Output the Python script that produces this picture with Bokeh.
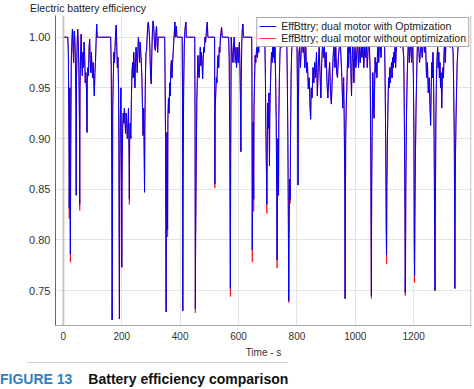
from bokeh.plotting import figure
from bokeh.models import Range1d, PrintfTickFormatter, Span, Legend, LegendItem, Div, ColumnDataSource
from bokeh.layouts import column
from bokeh.embed import file_html
from bokeh.resources import INLINE

# ---------------- data ----------------
time_s = [
    0, 15, 17, 19, 20, 21, 22, 23, 24, 25,
    27, 29, 31, 33, 35, 37, 39, 41, 43, 44,
    45, 47, 49, 51, 53, 55, 56, 57, 59, 61,
    63, 65, 67, 69, 71, 73, 75, 77, 79, 81,
    82, 84, 86, 88, 90, 92, 94, 96, 98, 100,
    102, 104, 106, 108, 110, 112, 114, 116, 162, 164,
    166, 167, 168, 169, 171, 173, 175, 177, 179, 181,
    183, 185, 187, 189, 190, 191, 192, 193, 195, 197,
    199, 200, 201, 203, 205, 207, 209, 211, 213, 215,
    217, 219, 221, 223, 225, 226, 227, 229, 231, 233,
    235, 237, 239, 241, 243, 245, 247, 249, 251, 253,
    255, 257, 259, 261, 263, 265, 267, 269, 271, 273,
    275, 277, 278, 279, 281, 283, 285, 287, 289, 291,
    293, 295, 297, 299, 301, 303, 305, 307, 309, 311,
    313, 315, 317, 319, 321, 323, 325, 347, 348, 350,
    352, 353, 355, 356, 357, 358, 360, 362, 364, 366,
    368, 370, 372, 374, 376, 378, 380, 382, 384, 387,
    389, 407, 408, 409, 410, 412, 414, 416, 418, 420,
    421, 450, 451, 452, 453, 455, 457, 459, 461, 463,
    465, 467, 469, 471, 473, 475, 477, 479, 481, 483,
    485, 487, 489, 491, 493, 495, 518, 519, 520, 522,
    524, 526, 528, 530, 532, 534, 536, 538, 540, 542,
    544, 566, 568, 570, 572, 573, 575, 577, 579, 581,
    583, 585, 587, 589, 591, 593, 595, 597, 599, 601,
    603, 605, 607, 608, 609, 611, 613, 615, 617, 645,
    646, 647, 648, 650, 652, 653, 655, 657, 659, 661,
    663, 665, 667, 669, 671, 690, 692, 694, 696, 697,
    698, 700, 702, 704, 706, 707, 709, 711, 713, 715,
    717, 719, 721, 723, 725, 727, 729, 731, 732, 733,
    735, 737, 738, 740, 742, 744, 746, 748, 750, 752,
    765, 767, 769, 771, 772, 773, 775, 777, 778, 780,
    782, 784, 800, 802, 804, 805, 807, 809, 812, 815,
    818, 821, 824, 827, 830, 833, 836, 839, 842, 845,
    847, 849, 852, 855, 858, 861, 864, 867, 870, 873,
    876, 879, 882, 885, 888, 891, 894, 897, 900, 903,
    906, 909, 912, 915, 918, 921, 924, 927, 930, 933,
    936, 939, 942, 945, 948, 951, 954, 957, 960, 962,
    964, 965, 967, 969, 971, 973, 975, 977, 979, 981,
    983, 985, 987, 989, 991, 993, 995, 997, 999, 1002,
    1005, 1008, 1011, 1014, 1017, 1020, 1023, 1026, 1029, 1032,
    1035, 1038, 1041, 1044, 1047, 1049, 1051, 1053, 1055, 1056,
    1058, 1060, 1062, 1064, 1066, 1068, 1070, 1072, 1074, 1076,
    1078, 1080, 1082, 1084, 1086, 1088, 1090, 1092, 1100, 1102,
    1104, 1106, 1107, 1108, 1110, 1112, 1114, 1116, 1118, 1120,
    1122, 1124, 1126, 1128, 1130, 1132, 1134, 1136, 1138, 1140,
    1142, 1144, 1150, 1155, 1160, 1166, 1168, 1170, 1171, 1172,
    1173, 1175, 1177, 1179, 1181, 1183, 1185, 1187, 1189, 1191,
    1193, 1195, 1197, 1199, 1201, 1202, 1203, 1204, 1206, 1208,
    1210, 1212, 1214, 1217, 1220, 1223, 1226, 1229, 1232, 1235,
    1238, 1241, 1244, 1247, 1250, 1253, 1256, 1258, 1260, 1262,
    1264, 1266, 1268, 1270, 1272, 1273, 1274, 1276, 1278, 1280,
    1282, 1284, 1286, 1288, 1290, 1292, 1294, 1296, 1298, 1300,
    1302, 1304, 1306, 1308, 1310, 1312, 1320, 1325, 1330, 1335,
    1337, 1339, 1340, 1341, 1342, 1343, 1345, 1347, 1349, 1351,
    1353,
]

eff_with_opt = [
    1.000, 1.000, 0.985, 0.900, 0.831, 0.860, 0.950, 0.840, 0.786, 0.880,
    0.975, 0.995, 1.008, 0.990, 0.975, 1.006, 1.000, 0.980, 0.930, 0.844,
    0.960, 0.990, 1.008, 0.995, 0.970, 0.920, 0.835, 0.950, 0.985, 1.003,
    0.975, 0.962, 0.985, 0.970, 0.995, 0.980, 0.955, 0.965, 0.950, 0.906,
    0.955, 0.970, 0.962, 0.990, 0.998, 0.978, 0.965, 0.985, 0.970, 0.960,
    0.975, 0.958, 0.942, 0.965, 0.975, 0.995, 1.013, 1.000, 1.000, 0.970,
    0.850, 0.721, 0.800, 0.930, 0.960, 0.985, 0.975, 0.990, 1.005, 1.012,
    0.990, 0.970, 0.980, 0.950, 0.900, 0.800, 0.722, 0.850, 0.920, 0.950,
    0.880, 0.773, 0.860, 0.910, 0.925, 0.915, 0.930, 0.920, 0.905, 0.925,
    0.915, 0.900, 0.910, 0.930, 0.880, 0.840, 0.900, 0.915, 0.900, 0.940,
    0.965, 0.975, 0.960, 0.985, 0.970, 0.950, 0.975, 0.990, 0.980, 0.965,
    0.985, 1.000, 0.990, 0.975, 0.995, 0.985, 0.975, 0.960, 0.930, 0.903,
    0.930, 0.880, 0.847, 0.910, 0.960, 0.985, 0.987, 1.000, 1.012, 1.015,
    1.008, 1.000, 0.980, 0.960, 0.954, 0.985, 1.005, 1.016, 1.012, 1.000,
    0.990, 0.987, 1.005, 1.011, 0.995, 0.985, 1.000, 1.000, 0.970, 0.900,
    0.729, 0.850, 0.906, 0.850, 0.810, 0.920, 0.940, 0.925, 0.955, 0.942,
    0.970, 0.977, 0.960, 0.975, 0.985, 0.995, 1.005, 1.015, 1.000, 1.011,
    1.000, 1.000, 0.950, 0.730, 0.850, 0.950, 0.990, 1.005, 1.012, 1.015,
    1.000, 1.000, 0.920, 0.732, 0.800, 0.873, 0.936, 0.960, 0.982, 0.965,
    0.960, 0.975, 0.990, 0.972, 0.985, 0.975, 0.959, 0.980, 0.990, 0.985,
    1.000, 0.995, 1.002, 1.010, 1.015, 1.000, 1.000, 0.855, 0.929, 0.945,
    0.960, 0.955, 0.975, 0.982, 0.970, 0.990, 0.985, 1.000, 1.005, 1.010,
    1.000, 1.000, 0.980, 0.900, 0.752, 0.883, 1.000, 0.990, 0.980, 0.975,
    0.990, 1.000, 0.985, 0.975, 0.990, 0.970, 0.980, 0.990, 0.975, 0.985,
    0.995, 0.970, 0.930, 0.887, 0.950, 0.995, 1.008, 1.013, 1.000, 1.000,
    0.960, 0.790, 0.850, 0.916, 0.840, 0.930, 0.960, 0.982, 0.975, 0.985,
    0.990, 0.980, 1.000, 0.985, 1.000, 1.000, 0.960, 0.900, 0.860, 0.835,
    0.880, 0.935, 0.910, 0.945, 0.873, 0.920, 0.950, 0.970, 0.985, 0.975,
    0.990, 0.980, 0.995, 0.975, 0.990, 0.960, 0.920, 0.840, 0.780, 0.850,
    0.900, 0.844, 0.920, 0.960, 0.985, 0.995, 1.000, 0.990, 0.995, 1.000,
    1.000, 0.960, 0.900, 0.800, 0.740, 0.800, 0.860, 0.840, 0.900, 0.960,
    0.985, 1.000, 1.000, 0.950, 0.854, 0.930, 0.985, 0.990, 0.970, 0.990,
    1.000, 0.985, 0.990, 0.970, 0.995, 0.965, 0.975, 0.949, 0.960, 0.930,
    0.919, 0.950, 0.940, 0.970, 0.955, 0.975, 0.960, 0.985, 0.942, 0.970,
    0.990, 0.965, 0.940, 0.975, 0.995, 0.980, 0.990, 0.970, 0.985, 0.955,
    0.940, 0.960, 0.975, 0.945, 0.934, 0.960, 0.980, 0.995, 0.970, 0.990,
    0.965, 0.960, 0.980, 0.990, 1.000, 0.980, 0.960, 0.930, 0.960, 0.920,
    0.850, 0.742, 0.900, 0.933, 0.950, 0.975, 0.990, 0.970, 0.990, 0.985,
    0.995, 0.965, 0.942, 0.975, 1.000, 0.980, 0.955, 0.975, 0.990, 0.970,
    0.985, 0.995, 0.970, 0.990, 0.975, 0.990, 0.980, 0.995, 0.970, 0.990,
    0.980, 0.995, 0.970, 0.990, 1.000, 0.985, 0.965, 0.880, 0.745, 0.850,
    0.920, 0.965, 0.935, 0.920, 0.950, 0.980, 0.965, 0.975, 0.960, 0.985,
    0.995, 0.975, 0.990, 1.000, 0.990, 0.980, 0.995, 1.000, 1.000, 0.960,
    0.900, 0.810, 0.785, 0.850, 0.900, 0.935, 0.960, 0.950, 0.970, 0.955,
    0.965, 0.975, 0.960, 0.980, 0.970, 0.985, 0.975, 0.990, 0.970, 0.985,
    0.995, 1.000, 1.000, 0.990, 1.000, 0.980, 0.920, 0.830, 0.748, 0.780,
    0.850, 0.916, 0.950, 0.975, 0.990, 0.995, 0.975, 0.990, 1.000, 0.985,
    0.975, 1.000, 0.990, 0.960, 0.900, 0.800, 0.765, 0.820, 0.883, 0.930,
    0.960, 0.985, 1.000, 0.990, 0.975, 0.985, 0.995, 0.980, 0.990, 1.000,
    0.985, 0.990, 0.960, 0.975, 0.945, 0.960, 0.930, 0.913, 0.950, 0.975,
    0.960, 0.985, 0.960, 0.900, 0.800, 0.750, 0.820, 0.920, 0.960, 0.980,
    0.990, 0.970, 0.985, 0.960, 0.975, 0.950, 0.965, 0.930, 0.955, 0.970,
    0.960, 0.985, 0.995, 0.975, 0.990, 1.000, 1.000, 0.990, 1.000, 0.985,
    0.950, 0.900, 0.840, 0.752, 0.830, 0.880, 0.920, 0.950, 0.975, 0.985,
    1.000,
]

eff_without_opt = [
    1.000, 1.000, 0.985, 0.900, 0.821, 0.860, 0.950, 0.840, 0.778, 0.880,
    0.975, 0.995, 1.008, 0.990, 0.975, 1.006, 1.000, 0.980, 0.930, 0.844,
    0.960, 0.990, 1.008, 0.995, 0.970, 0.920, 0.829, 0.950, 0.985, 1.003,
    0.975, 0.962, 0.985, 0.970, 0.995, 0.980, 0.955, 0.965, 0.950, 0.906,
    0.955, 0.970, 0.962, 0.990, 0.998, 0.978, 0.965, 0.985, 0.970, 0.960,
    0.975, 0.958, 0.942, 0.965, 0.975, 0.995, 1.013, 1.000, 1.000, 0.970,
    0.850, 0.721, 0.800, 0.930, 0.960, 0.985, 0.975, 0.990, 1.005, 1.012,
    0.990, 0.970, 0.980, 0.950, 0.900, 0.800, 0.722, 0.850, 0.920, 0.950,
    0.880, 0.773, 0.860, 0.910, 0.925, 0.915, 0.930, 0.920, 0.905, 0.925,
    0.915, 0.900, 0.910, 0.930, 0.880, 0.835, 0.900, 0.915, 0.900, 0.940,
    0.965, 0.975, 0.960, 0.985, 0.970, 0.950, 0.975, 0.990, 0.980, 0.965,
    0.985, 1.000, 0.990, 0.975, 0.995, 0.985, 0.975, 0.960, 0.930, 0.903,
    0.930, 0.880, 0.847, 0.910, 0.960, 0.985, 0.987, 1.000, 1.012, 1.015,
    1.008, 1.000, 0.980, 0.960, 0.954, 0.985, 1.005, 1.016, 1.012, 1.000,
    0.990, 0.987, 1.005, 1.011, 0.995, 0.985, 1.000, 1.000, 0.970, 0.900,
    0.729, 0.850, 0.906, 0.850, 0.803, 0.920, 0.940, 0.925, 0.955, 0.942,
    0.970, 0.977, 0.960, 0.975, 0.985, 0.995, 1.005, 1.015, 1.000, 1.011,
    1.000, 1.000, 0.950, 0.730, 0.850, 0.950, 0.990, 1.005, 1.012, 1.015,
    1.000, 1.000, 0.920, 0.728, 0.800, 0.873, 0.936, 0.960, 0.982, 0.965,
    0.960, 0.975, 0.990, 0.972, 0.985, 0.975, 0.959, 0.980, 0.990, 0.985,
    1.000, 0.995, 1.002, 1.010, 1.015, 1.000, 1.000, 0.851, 0.929, 0.945,
    0.960, 0.955, 0.975, 0.982, 0.970, 0.990, 0.985, 1.000, 1.005, 1.010,
    1.000, 1.000, 0.980, 0.900, 0.744, 0.883, 1.000, 0.990, 0.980, 0.975,
    0.990, 1.000, 0.985, 0.975, 0.990, 0.970, 0.980, 0.990, 0.975, 0.985,
    0.995, 0.970, 0.930, 0.887, 0.950, 0.995, 1.008, 1.013, 1.000, 1.000,
    0.960, 0.778, 0.850, 0.916, 0.828, 0.930, 0.960, 0.982, 0.975, 0.985,
    0.990, 0.980, 1.000, 0.985, 1.000, 1.000, 0.960, 0.900, 0.860, 0.826,
    0.880, 0.935, 0.910, 0.945, 0.873, 0.920, 0.950, 0.970, 0.985, 0.975,
    0.990, 0.980, 0.995, 0.975, 0.990, 0.960, 0.920, 0.840, 0.772, 0.850,
    0.900, 0.844, 0.920, 0.960, 0.985, 0.995, 1.000, 0.990, 0.995, 1.000,
    1.000, 0.960, 0.900, 0.800, 0.738, 0.800, 0.860, 0.836, 0.900, 0.960,
    0.985, 1.000, 1.000, 0.950, 0.854, 0.930, 0.985, 0.990, 0.970, 0.990,
    1.000, 0.985, 0.990, 0.970, 0.995, 0.965, 0.975, 0.949, 0.960, 0.930,
    0.919, 0.950, 0.940, 0.970, 0.955, 0.975, 0.960, 0.985, 0.942, 0.970,
    0.990, 0.965, 0.940, 0.975, 0.995, 0.980, 0.990, 0.970, 0.985, 0.955,
    0.940, 0.960, 0.975, 0.945, 0.934, 0.960, 0.980, 0.995, 0.970, 0.990,
    0.965, 0.960, 0.980, 0.990, 1.000, 0.980, 0.960, 0.930, 0.960, 0.920,
    0.850, 0.742, 0.900, 0.933, 0.950, 0.975, 0.990, 0.970, 0.990, 0.985,
    0.995, 0.965, 0.942, 0.975, 1.000, 0.980, 0.955, 0.975, 0.990, 0.970,
    0.985, 0.995, 0.970, 0.990, 0.975, 0.990, 0.980, 0.995, 0.970, 0.990,
    0.980, 0.995, 0.970, 0.990, 1.000, 0.985, 0.965, 0.880, 0.742, 0.850,
    0.920, 0.965, 0.935, 0.920, 0.950, 0.980, 0.965, 0.975, 0.960, 0.985,
    0.995, 0.975, 0.990, 1.000, 0.990, 0.980, 0.995, 1.000, 1.000, 0.960,
    0.900, 0.810, 0.776, 0.850, 0.900, 0.935, 0.960, 0.950, 0.970, 0.955,
    0.965, 0.975, 0.960, 0.980, 0.970, 0.985, 0.975, 0.990, 0.970, 0.985,
    0.995, 1.000, 1.000, 0.990, 1.000, 0.980, 0.920, 0.830, 0.745, 0.765,
    0.850, 0.916, 0.950, 0.975, 0.990, 0.995, 0.975, 0.990, 1.000, 0.985,
    0.975, 1.000, 0.990, 0.960, 0.900, 0.800, 0.758, 0.820, 0.883, 0.930,
    0.960, 0.985, 1.000, 0.990, 0.975, 0.985, 0.995, 0.980, 0.990, 1.000,
    0.985, 0.990, 0.960, 0.975, 0.945, 0.960, 0.930, 0.913, 0.950, 0.975,
    0.960, 0.985, 0.960, 0.900, 0.800, 0.750, 0.820, 0.920, 0.960, 0.980,
    0.990, 0.970, 0.985, 0.960, 0.975, 0.950, 0.965, 0.930, 0.955, 0.970,
    0.960, 0.985, 0.995, 0.975, 0.990, 1.000, 1.000, 0.990, 1.000, 0.985,
    0.950, 0.900, 0.840, 0.752, 0.825, 0.880, 0.920, 0.950, 0.975, 0.985,
    1.000,
]

x_ticks = [0, 200, 400, 600, 800, 1000, 1200]
y_ticks = [0.75, 0.80, 0.85, 0.90, 0.95, 1.00]
series_names = ["EffBttry; dual motor with Optmization",
                "EffBttry; dual motor without optimization"]
title_text = "Electric battery efficiency"
x_label = "Time - s"
caption_num = "FIGURE 13"
caption_text = "Battery efficiency comparison"

FONT = "Liberation Sans"

src = ColumnDataSource(dict(t=time_s, opt=eff_with_opt, noopt=eff_without_opt))

# title as a small header block above the plot
title_div = Div(
    text=('<div style="padding-left:30px;white-space:nowrap;'
          "font-family:'Liberation Sans';font-size:10.5px;line-height:12px;"
          'color:#222;">' + title_text + '</div>'),
    width=474, height=15, margin=(0, 0, 0, 0))

p = figure(width=474, height=347, output_backend="svg", toolbar_location=None,
           x_range=Range1d(-27, 1398), y_range=Range1d(0.7155, 1.0214),
           min_border_left=55, min_border_right=3, min_border_top=0,
           min_border_bottom=37, background_fill_color="white",
           border_fill_color="white", margin=(0, 0, 0, 0))
p.outline_line_color = None

# grid
p.xgrid.grid_line_color = "#e4e4e4"
p.ygrid.grid_line_color = "#e4e4e4"
p.add_layout(Span(location=0, dimension="height", line_color="#c6c6c6", line_width=2))
p.add_layout(Span(location=1396, dimension="height", line_color="#b4b4b4", line_width=1))

# axes
p.xaxis.ticker = x_ticks
p.yaxis.ticker = y_ticks
p.yaxis.formatter = PrintfTickFormatter(format="%.2f")
for ax in (p.xaxis, p.yaxis):
    ax.major_tick_line_color = None
    ax.minor_tick_line_color = None
    ax.major_tick_out = 0
    ax.major_tick_in = 0
    ax.minor_tick_out = 0
    ax.minor_tick_in = 0
    ax.major_label_text_font = FONT
    ax.major_label_text_color = "#333333"
p.yaxis.axis_line_color = "#666666"
p.yaxis.major_label_text_font_size = "11px"
p.yaxis.major_label_standoff = 5
p.xaxis.axis_line_color = "#a8a8a8"
p.xaxis.major_label_text_font_size = "10px"
p.xaxis.major_label_standoff = 6
p.xaxis.axis_label = x_label
p.xaxis.axis_label_text_font = FONT
p.xaxis.axis_label_text_font_size = "10px"
p.xaxis.axis_label_text_font_style = "normal"
p.xaxis.axis_label_text_color = "#333333"
p.xaxis.axis_label_standoff = 4

# series (red underneath, blue on top)
r_noopt = p.line("t", "noopt", source=src, line_color="#ff0000", line_width=0.8)
r_opt = p.line("t", "opt", source=src, line_color="#0000ff", line_width=1.0)

legend = Legend(items=[LegendItem(label=series_names[0], renderers=[r_opt]),
                       LegendItem(label=series_names[1], renderers=[r_noopt])],
                location="top_right")
legend.border_line_color = "#555555"
legend.border_line_width = 1
legend.background_fill_color = "white"
legend.background_fill_alpha = 1.0
legend.label_text_font = FONT
legend.label_text_font_size = "10.5px"
legend.label_text_color = "#222222"
legend.label_height = 10
legend.glyph_height = 10
legend.glyph_width = 17
legend.label_standoff = 5
legend.spacing = 0
legend.padding = 2
legend.margin = 2
p.add_layout(legend)

caption_html = (
    '<div style="border-top:1px solid #d0d0d0;margin-left:27px;height:0;"></div>'
    '<div style="padding-top:8px;white-space:nowrap;'
    "font-family:'Liberation Sans';font-weight:bold;font-size:14px;line-height:16px;color:#111;\">"
    '<span style="color:#2f7fc1">' + caption_num + '</span>'
    '<span style="margin-left:16px">' + caption_text + '</span></div>'
)
cap = Div(text=caption_html, width=474, height=27, margin=(0, 0, 0, 0))

layout = column(title_div, p, cap, spacing=0)
open("out.html", "w").write(file_html(layout, INLINE))
